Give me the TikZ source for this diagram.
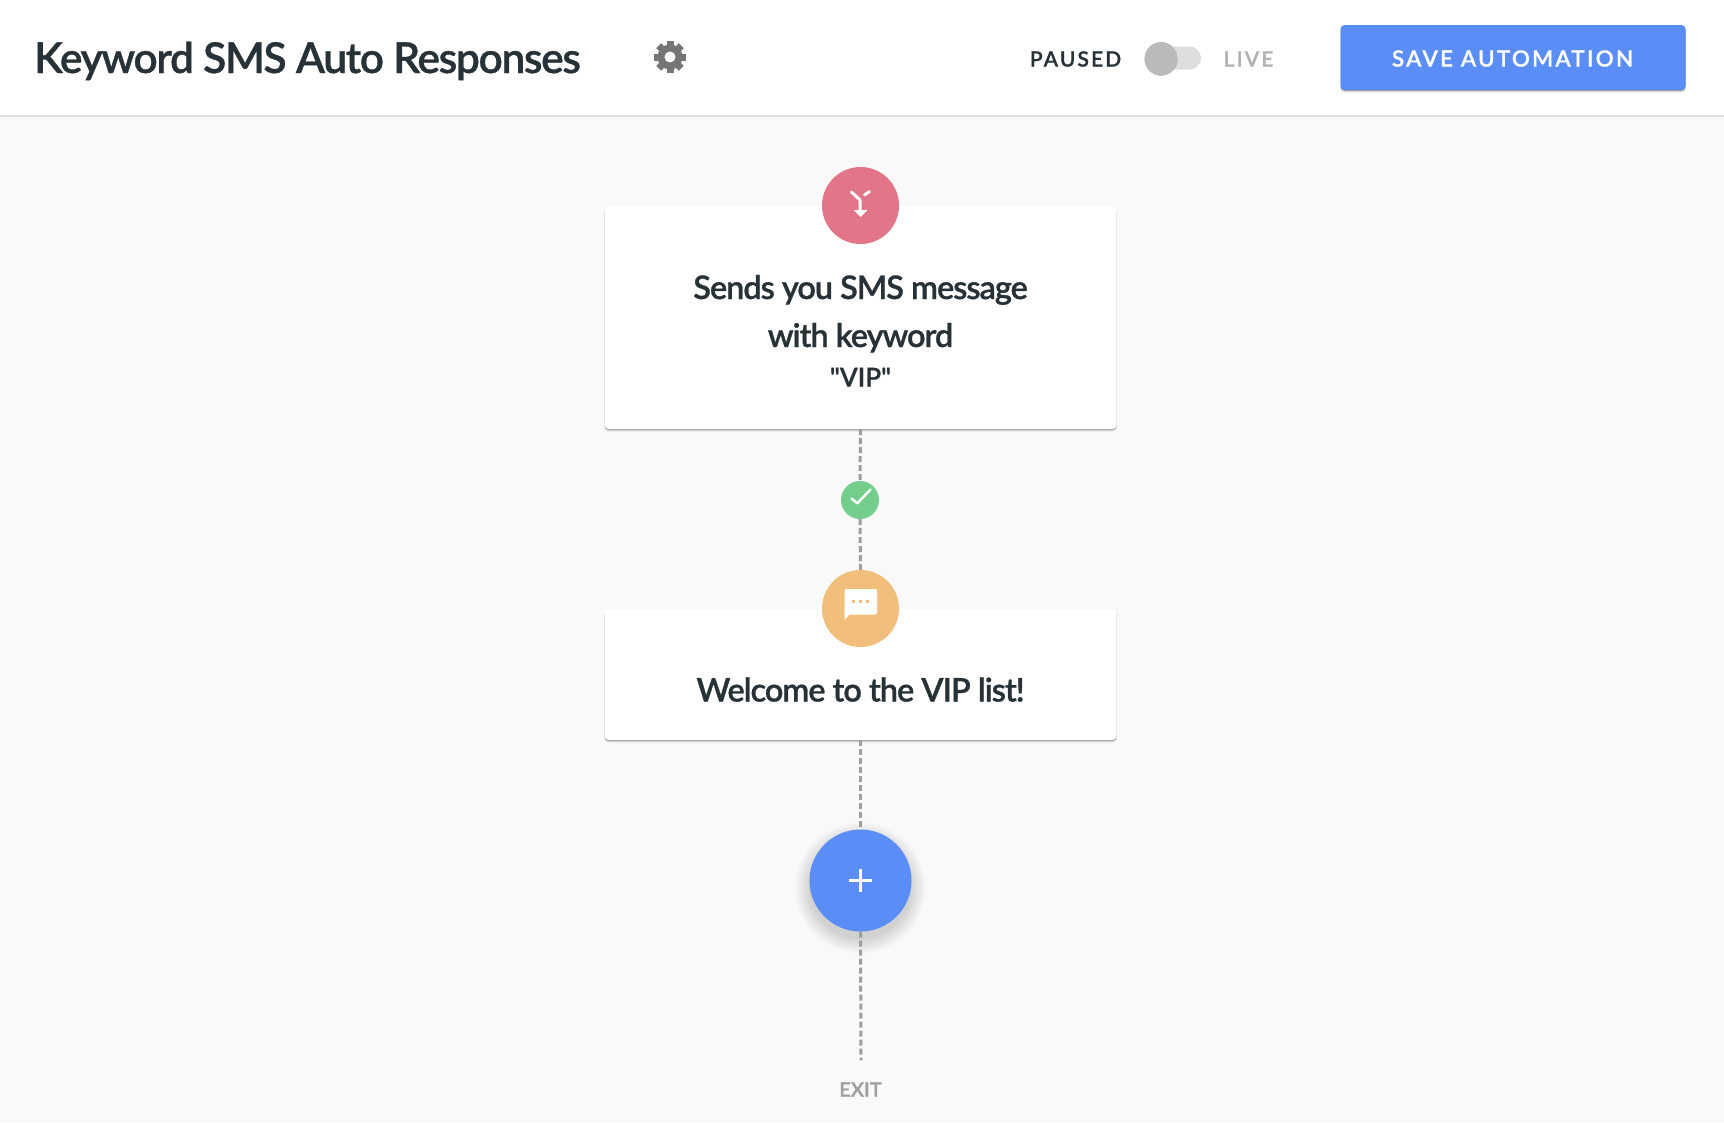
\documentclass[tikz,border=0pt]{standalone}
\usepackage{fontspec}
\setmainfont{Lato}
\newfontfamily\titlefont[FakeBold=0.8,LetterSpace=-3.2,UprightFont=* Semibold]{Lato}
\newfontfamily\medfont[FakeBold=0.8,LetterSpace=-3.2,UprightFont=* Semibold]{Lato}
\newfontfamily\subfont[FakeBold=0.8,UprightFont=* Semibold]{Lato}
\newfontfamily\capsfont[FakeBold=0.8,LetterSpace=10,UprightFont=* Semibold]{Lato}
\usepackage{xcolor}
\usepackage{tikz}
\usetikzlibrary{shadows,calc}

\definecolor{pagebg}{HTML}{F9F9F9}
\definecolor{inktext}{HTML}{263238}
\definecolor{blueui}{HTML}{5B8DF7}
\definecolor{redui}{HTML}{E27588}
\definecolor{orangeui}{HTML}{F2BE7B}
\definecolor{greenui}{HTML}{74CE8B}
\definecolor{grayline}{HTML}{9E9E9E}

\begin{document}
\begin{tikzpicture}[
    x=1pt, y=-1pt,
    softshadow/.style={
        drop shadow={shadow xshift=0pt, shadow yshift=-2.5pt, opacity=0.1, fill=black},
        drop shadow={shadow xshift=0pt, shadow yshift=-1pt, opacity=0.3, fill=black}},
    card/.style={rectangle, fill=white, rounded corners=4pt, minimum width=512pt, align=center, inner sep=0pt, softshadow},
    badge/.style={circle, inner sep=0pt, minimum size=77pt},
    conn/.style={draw=grayline, line width=3pt, dash pattern=on 6pt off 3pt},
    heading/.style={font=\medfont\fontsize{32.5}{48}\selectfont, text=inktext, align=center, inner sep=0pt},
    caps/.style={font=\capsfont\fontsize{21}{25}\selectfont, inner sep=0pt},
    glyph/.style={draw=white, line width=3pt, line cap=round, line join=round}
]

% Page
\useasboundingbox (0,0) rectangle (1724,1122);
\fill[pagebg] (0,0) rectangle (1724,1122);
\fill[white] (0,0) rectangle (1724,115);
\fill[black!12] (0,115) rectangle (1724,116.5);

% Header
\node[anchor=base west, inner sep=0pt, text=inktext, font=\titlefont\fontsize{42.5}{48}\selectfont] (title) at (34,73) {Keyword SMS Auto Responses};

% Settings gear
\node[circle, inner sep=0pt, minimum size=11pt] (gear) at (670,57) {};
\foreach \a in {0,45,...,315}
    \fill[black!54, rotate around={\a:(gear.center)}] ($(gear.center)+(-3.5,-16)$) rectangle ($(gear.center)+(3.5,0)$);
\fill[black!54] (gear.center) circle (12.5pt);
\fill[white] (gear.center) circle (5.5pt);

% Toggle
\node[caps, text=inktext, anchor=center] (paused) at (1075.5,59) {PAUSED};
\node[caps, text=black!30, anchor=center] (live) at (1248.5,59) {LIVE};
\fill[black!13, rounded corners=11.5pt] (1150,46.5) rectangle (1201,69.5);
\node[circle, fill=black!27, inner sep=0pt, minimum size=33pt, drop shadow={shadow xshift=0pt, shadow yshift=-1pt, opacity=0.2, fill=black}] (knob) at (1161,58.5) {};

% Save button
\node[rectangle, fill=blueui, rounded corners=4pt, minimum width=345pt, minimum height=65pt, inner sep=0pt, softshadow] (save) at (1513,57.5) {};
\node[text=white, inner sep=0pt, font=\capsfont\fontsize{22.4}{26}\selectfont] (savetext) at (1512.5,58.5) {SAVE AUTOMATION};

% Cards and badges
\node[card, minimum height=223pt] (trigger) at (860.5,317.5) {};
\node[card, minimum height=131pt] (reply) at (860.5,674.5) {};
\node[badge, fill=redui] (triggericon) at (860.5,205.5) {};
\node[badge, fill=orangeui] (replyicon) at (860.5,608.5) {};
\node[circle, fill=greenui, inner sep=0pt, minimum size=38pt] (check) at (860,500) {};
\foreach \r in {65,63,...,51}
    \fill[black, opacity=0.018] (860.5,888) circle (\r pt);
\node[circle, fill=blueui, inner sep=0pt, minimum size=102pt] (add) at (860.5,880.5) {};
\node[font=\subfont\fontsize{20}{24}\selectfont, text=grayline, inner sep=0pt] (exit) at (860.5,1089.5) {EXIT};
\coordinate (exitend) at (861,1060);

% Dashed connectors
\draw[conn] (trigger.south) -- (check.north);
\draw[conn] (check.south) -- (replyicon.north);
\draw[conn] (reply.south) -- (add.north);
\draw[conn] (add.south) -- (exitend);

% Card texts
\node[heading, anchor=base] (triggertext) at (860.5,347) {Sends you SMS message\\with keyword};
\node[font=\subfont\fontsize{26}{28}\selectfont, text=inktext, inner sep=0pt, anchor=base] (keyword) at (860.5,386.5) {"VIP"};
\node[heading, anchor=base] (replytext) at (860.5,701.5) {Welcome to the VIP list!};

% Icons
\draw[glyph] (851.5,192) -- (860,200) -- (860,211);
\draw[glyph] (864.5,195) -- (869.5,191.5);
\fill[white] (853.5,210) -- (867.5,210) -- (860.5,217) -- cycle;
\draw[glyph, line width=2.5pt] (851.5,498.5) -- (857.3,503.3) -- (870.5,489.5);
\fill[white, rounded corners=2pt] (844.5,589) rectangle (877,614.5);
\fill[white] (844.5,610) -- (844.5,620) -- (852,612) -- cycle;
\foreach \x in {853.5,860,867}
    \fill[orangeui] (\x-1.5,600) rectangle (\x+1.5,603);
\draw[white, line width=3pt] (849,880) -- (872,880);
\draw[white, line width=3pt] (860.5,868.5) -- (860.5,891.5);

\end{tikzpicture}
\end{document}
